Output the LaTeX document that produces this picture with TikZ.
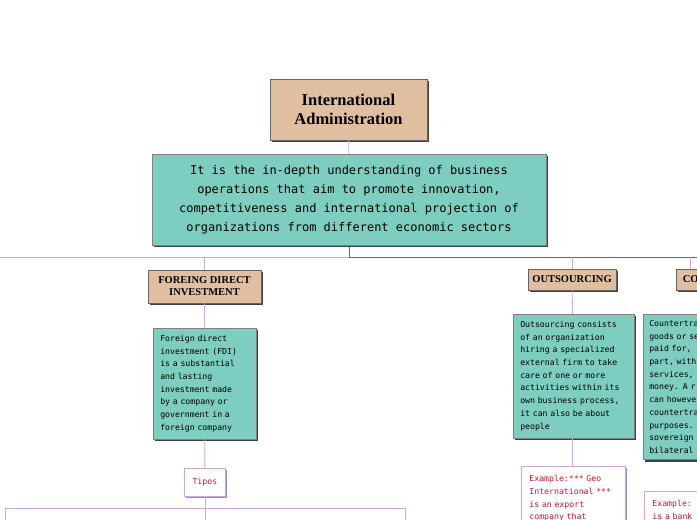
\documentclass[tikz,border=0pt]{standalone}
\usepackage{fontspec}
\setmainfont{Liberation Serif}
\newfontfamily\monof{DejaVu Sans Mono}
\usetikzlibrary{shadows}
\definecolor{tan}{HTML}{E0BFA0}
\definecolor{teal2}{HTML}{7DCDC0}
\definecolor{lpur}{HTML}{C9A8DC}
\definecolor{dpur}{HTML}{7D4FA0}
\definecolor{redt}{HTML}{D0103A}
\tikzset{
 shd/.style={drop shadow={shadow xshift=2pt,shadow yshift=-2pt,fill=black!75,opacity=1}},
 topic/.style={shd,fill=tan,draw=black!60,line width=0.5pt,font=\bfseries,align=center,inner sep=0pt},
 desc/.style={shd,fill=teal2,draw=black!50,line width=0.5pt,align=left,inner xsep=7pt,anchor=north west,font=\monof\fontsize{8.2}{12.7}\selectfont},
 ex/.style={drop shadow={shadow xshift=2pt,shadow yshift=-2pt,fill=dpur!70,opacity=1},fill=white,draw=lpur,line width=0.8pt,align=left,inner xsep=8pt,anchor=north west,text=redt,font=\monof\fontsize{8.2}{12.7}\selectfont},
 con/.style={draw=lpur,line width=0.8pt},
 dcon/.style={draw=dpur,line width=0.8pt}
}
\begin{document}
\begin{tikzpicture}[x=1pt,y=-1pt]
\useasboundingbox (0,0) rectangle (697,520);
\clip (0,0) rectangle (697,520);
% nodes
\node[topic,minimum width=157,minimum height=61,font=\bfseries\fontsize{16.5}{19}\selectfont] (title) at (348.5,109.5) {International\\Administration};
\node[shd,fill=teal2,draw=black!50,line width=0.5pt,minimum width=394,minimum height=91,align=center,inner sep=0pt,font=\monof\fontsize{12}{19}\selectfont] (main) at (349,199.5) {It is the in-depth understanding of business\\operations that aim to promote innovation,\\competitiveness and international projection of\\organizations from different economic sectors};
\node[topic,minimum width=113,minimum height=33,font=\bfseries\fontsize{10.5}{12}\selectfont] (fdi) at (204.5,286.5) {FOREING DIRECT\\INVESTMENT};
\node[desc,text width=89,inner ysep=7pt] (fdid) at (153,328) {Foreign direct\\investment (FDI)\\is a substantial\\and lasting\\investment made\\by a company or\\government in a\\foreign company};
\node[ex,minimum width=41,minimum height=28,align=center,inner sep=0pt] (tipos) at (184,468) {Tipos};
\node[topic,minimum width=88,minimum height=21,font=\bfseries\fontsize{10.5}{11}\selectfont] (out) at (572,279.5) {OUTSOURCING};
\node[desc,text width=107,inner ysep=7pt] (outd) at (513,314) {Outsourcing consists\\of an organization\\hiring a specialized\\external firm to take\\care of one or more\\activities within its\\own business process,\\it can also be about\\people};
\node[ex,text width=88,inner ysep=9pt] (outex) at (521,466) {Example:*** Geo\\International ***\\is an export\\company that};
\node[topic,minimum width=100,minimum height=21,anchor=west,font=\bfseries\fontsize{10.5}{11}\selectfont] (cou) at (676,279.5) {\hspace{2pt}COUNTERTRADE};
\node[desc,text width=106,inner ysep=6pt,inner xsep=6pt] (coud) at (643,314) {Countertrade\\goods or se\\paid for,\\part, with\\services,\\money. A r\\can howeve\\countertra\\purposes.\\sovereign\\bilateral};
\node[ex,text width=88,inner ysep=9pt] (couex) at (644,491) {Example: \\is a bank\\};
% connectors
\coordinate (hl) at (0,257); \coordinate (hr) at (697,257);
\coordinate (hm) at (main.south |- hl);
\draw[con] (hl) -- (hm);
\draw[dcon] (hm) -- (hr);
\draw[dcon] (main.south) -- (hm);
\draw[con] (title) -- (main);
\draw[con] (fdi.north |- hl) -- (fdi.north);
\draw[con] (fdi) -- (fdid);
\draw[con] (fdid) -- (tipos);
\draw[con] (out.north |- hl) -- (out.north);
\draw[con] (out) -- (outd);
\draw[con] (outd.south -| out) -- (outex.north -| out);
\draw[con] (690,257) -- (690,269);
\coordinate (t1) at (5,508); \coordinate (t2) at (405,508); \coordinate (tm) at (tipos.south |- t1);
\draw[con] (tipos) -- (tm);
\draw[con] (t1) -- (t2);
\draw[con] (t1) -- (5,520);
\draw[con] (tm) -- (tm |- 0,520);
\draw[con] (t2) -- (405,520);
\end{tikzpicture}
\end{document}
